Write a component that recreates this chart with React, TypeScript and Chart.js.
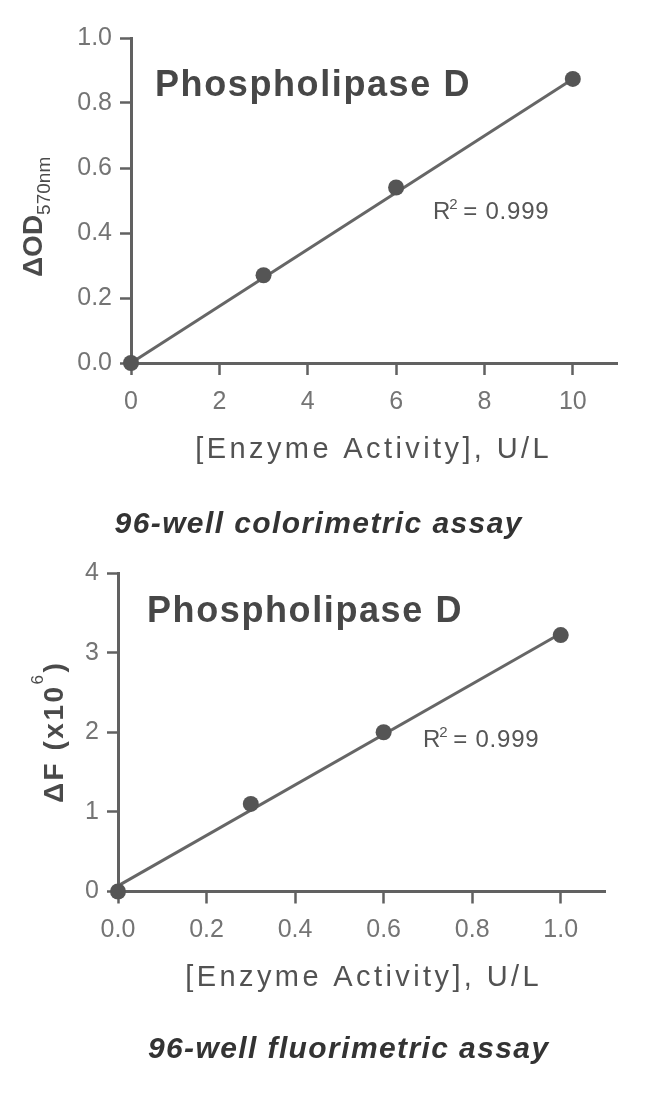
import React, { useEffect, useRef } from 'react';
import { Chart, registerables } from 'chart.js';

Chart.register(...registerables);

// ---------- data: 96-well colorimetric assay ----------
const colorimetricActivity = [0, 3, 6, 10];
const colorimetricDeltaOD = [0, 0.27, 0.54, 0.874];
const colorimetricFitActivity = [0, 10];
const colorimetricFitDeltaOD = [0, 0.874];
const colorimetricXTicks = [0, 2, 4, 6, 8, 10];
const colorimetricYTicks = [0, 0.2, 0.4, 0.6, 0.8, 1.0];

// ---------- data: 96-well fluorimetric assay ----------
const fluorimetricActivity = [0, 0.3, 0.6, 1.0];
const fluorimetricDeltaF = [0, 1.1, 2.0, 3.22];
const fluorimetricFitActivity = [0, 1.0];
const fluorimetricFitDeltaF = [0.07, 3.24];
const fluorimetricXTicks = [0, 0.2, 0.4, 0.6, 0.8, 1.0];
const fluorimetricYTicks = [0, 1, 2, 3, 4];

// ---------- texts ----------
const chartTitle = 'Phospholipase D';
const r2Value = '0.999';
const xAxisTitle = '[Enzyme Activity], U/L';
const colorimetricCaption = '96-well colorimetric assay';
const fluorimetricCaption = '96-well fluorimetric assay';

const FONT = '"Liberation Sans", Arial, Helvetica, sans-serif';
const AXIS_COLOR = '#616161';
const TICK_COLOR = '#747474';
const LINE_COLOR = '#666666';
const POINT_COLOR = '#555555';

type YPart = { text: string; size: number; bold: boolean; shift: number };

type PanelSpec = {
  height: number;
  xs: number[];
  ys: number[];
  fitXs: number[];
  fitYs: number[];
  xTicks: number[];
  yTicks: number[];
  xMax: number;
  yMax: number;
  xDecimals: number;
  yDecimals: number;
  caption: string;
  yParts: YPart[];
  ySpacing: number;
  layout: {
    area: { left: number; top: number; right: number; bottom: number };
    title: { x: number; y: number };
    r2: { x: number; y: number };
    xTitle: { x: number; y: number };
    caption: { x: number; y: number };
    yTitle: { x: number; y: number };
  };
};

function setFont(ctx: CanvasRenderingContext2D, size: number, weight: string, style = 'normal') {
  ctx.font = `${style} ${weight} ${size}px ${FONT}`;
}

function drawSpaced(
  ctx: CanvasRenderingContext2D,
  text: string,
  x: number,
  y: number,
  spacing: number,
  align: 'left' | 'center'
) {
  (ctx as any).letterSpacing = `${spacing}px`;
  const w = ctx.measureText(text).width;
  let sx = x;
  if (align === 'center') sx = x - (w - spacing) / 2;
  ctx.textAlign = 'left';
  ctx.fillText(text, sx, y);
  return w;
}

function makeAnnotations(spec: PanelSpec) {
  return {
    id: 'panelAnnotations',
    afterDraw(chart: any) {
      const ctx: CanvasRenderingContext2D = chart.ctx;
      const L = spec.layout;
      ctx.save();
      ctx.textBaseline = 'alphabetic';

      // panel title
      ctx.fillStyle = '#474747';
      setFont(ctx, 36, 'bold');
      drawSpaced(ctx, chartTitle, L.title.x, L.title.y, 1.6, 'left');

      // R² label
      ctx.fillStyle = '#555555';
      setFont(ctx, 24, 'normal');
      let px = L.r2.x;
      px += drawSpaced(ctx, 'R', px, L.r2.y, 0, 'left');
      setFont(ctx, 15, 'normal');
      px += drawSpaced(ctx, '2', px - 1, L.r2.y - 10, 0, 'left');
      setFont(ctx, 24, 'normal');
      drawSpaced(ctx, ' = ' + r2Value, px - 3, L.r2.y, 0.8, 'left');

      // x axis title
      ctx.fillStyle = '#525252';
      setFont(ctx, 29, 'normal');
      drawSpaced(ctx, xAxisTitle, L.xTitle.x, L.xTitle.y, 3.4, 'center');

      // caption
      ctx.fillStyle = '#333333';
      setFont(ctx, 30, 'bold', 'italic');
      drawSpaced(ctx, spec.caption, L.caption.x, L.caption.y, 1.4, 'center');

      // y axis title (rotated, with sub/superscript)
      ctx.fillStyle = '#4a4a4a';
      ctx.translate(L.yTitle.x, L.yTitle.y);
      ctx.rotate(-Math.PI / 2);
      let pos = 0;
      for (const part of spec.yParts) {
        setFont(ctx, part.size, part.bold ? 'bold' : 'normal');
        pos += drawSpaced(ctx, part.text, pos, part.shift, spec.ySpacing, 'left');
      }
      ctx.restore();
      (ctx as any).letterSpacing = '0px';
    },
  };
}

function buildConfig(spec: PanelSpec): any {
  const L = spec.layout;
  const tickFont = { family: FONT, size: 25 };
  return {
    type: 'scatter',
    data: {
      datasets: [
        {
          label: 'measured',
          data: spec.xs.map((x, i) => ({ x, y: spec.ys[i] })),
          showLine: false,
          pointRadius: 8,
          pointHoverRadius: 8,
          pointBackgroundColor: POINT_COLOR,
          pointBorderColor: POINT_COLOR,
          pointBorderWidth: 0,
          clip: false,
        },
        {
          label: 'fit',
          data: spec.fitXs.map((x, i) => ({ x, y: spec.fitYs[i] })),
          showLine: true,
          pointRadius: 0,
          borderColor: LINE_COLOR,
          borderWidth: 3,
          fill: false,
          clip: false,
        },
      ],
    },
    options: {
      responsive: false,
      animation: false,
      events: [],
      layout: {
        padding: { left: 0, top: L.area.top, right: 650 - L.area.right, bottom: 0 },
      },
      plugins: {
        legend: { display: false },
        tooltip: { enabled: false },
        title: { display: false },
      },
      scales: {
        x: {
          type: 'linear',
          min: 0,
          max: spec.xMax,
          afterBuildTicks: (s: any) => {
            s.ticks = spec.xTicks.map((v) => ({ value: v }));
          },
          afterFit: (s: any) => {
            s.height = spec.height - L.area.bottom;
          },
          grid: {
            display: true,
            drawOnChartArea: false,
            drawTicks: true,
            tickLength: 12,
            tickWidth: 2.5,
            color: AXIS_COLOR,
          },
          border: { display: true, color: AXIS_COLOR, width: 3 },
          ticks: {
            color: TICK_COLOR,
            font: tickFont,
            padding: 12,
            maxRotation: 0,
            autoSkip: false,
            callback: (v: any) => Number(v).toFixed(spec.xDecimals),
          },
        },
        y: {
          type: 'linear',
          min: 0,
          max: spec.yMax,
          afterBuildTicks: (s: any) => {
            s.ticks = spec.yTicks.map((v) => ({ value: v }));
          },
          afterFit: (s: any) => {
            s.width = L.area.left;
          },
          grid: {
            display: true,
            drawOnChartArea: false,
            drawTicks: true,
            tickLength: 11,
            tickWidth: 2.5,
            color: AXIS_COLOR,
          },
          border: { display: true, color: AXIS_COLOR, width: 3 },
          ticks: {
            color: TICK_COLOR,
            font: tickFont,
            padding: 8,
            autoSkip: false,
            callback: (v: any) => Number(v).toFixed(spec.yDecimals),
          },
        },
      },
    },
    plugins: [makeAnnotations(spec)],
  };
}

const colorimetricSpec: PanelSpec = {
  height: 550,
  xs: colorimetricActivity,
  ys: colorimetricDeltaOD,
  fitXs: colorimetricFitActivity,
  fitYs: colorimetricFitDeltaOD,
  xTicks: colorimetricXTicks,
  yTicks: colorimetricYTicks,
  xMax: 11,
  yMax: 1,
  xDecimals: 0,
  yDecimals: 1,
  caption: colorimetricCaption,
  yParts: [
    { text: 'ΔOD', size: 28, bold: true, shift: 0 },
    { text: '570nm', size: 19, bold: false, shift: 8 },
  ],
  ySpacing: 0,
  layout: {
    area: { left: 131, top: 38, right: 617, bottom: 363 },
    title: { x: 155, y: 96 },
    r2: { x: 433, y: 219 },
    xTitle: { x: 372, y: 458 },
    caption: { x: 318, y: 533 },
    yTitle: { x: 42, y: 277 },
  },
};

const fluorimetricSpec: PanelSpec = {
  height: 552,
  xs: fluorimetricActivity,
  ys: fluorimetricDeltaF,
  fitXs: fluorimetricFitActivity,
  fitYs: fluorimetricFitDeltaF,
  xTicks: fluorimetricXTicks,
  yTicks: fluorimetricYTicks,
  xMax: 1.1,
  yMax: 4,
  xDecimals: 1,
  yDecimals: 0,
  caption: fluorimetricCaption,
  yParts: [
    { text: 'ΔF (x10', size: 28, bold: true, shift: 0 },
    { text: '6', size: 17, bold: false, shift: -20 },
    { text: ')', size: 28, bold: true, shift: 0 },
  ],
  ySpacing: 2.5,
  layout: {
    area: { left: 118, top: 16, right: 605, bottom: 341.5 },
    title: { x: 147, y: 72 },
    r2: { x: 423, y: 197 },
    xTitle: { x: 362, y: 436 },
    caption: { x: 348, y: 508 },
    yTitle: { x: 63, y: 253 },
  },
};

function Panel({ spec, top }: { spec: PanelSpec; top: number }) {
  const ref = useRef<HTMLCanvasElement | null>(null);
  useEffect(() => {
    if (!ref.current) return;
    const chart = new Chart(ref.current, buildConfig(spec));
    return () => chart.destroy();
  }, [spec]);
  return (
    <canvas
      ref={ref}
      width={650}
      height={spec.height}
      style={{ position: 'absolute', left: 0, top, width: 650, height: spec.height, display: 'block' }}
    />
  );
}

export default function App() {
  return (
    <div
      style={{
        position: 'absolute',
        left: 0,
        top: 0,
        width: 650,
        height: 1102,
        background: '#ffffff',
        overflow: 'hidden',
      }}
    >
      <Panel spec={colorimetricSpec} top={0} />
      <Panel spec={fluorimetricSpec} top={550} />
    </div>
  );
}
